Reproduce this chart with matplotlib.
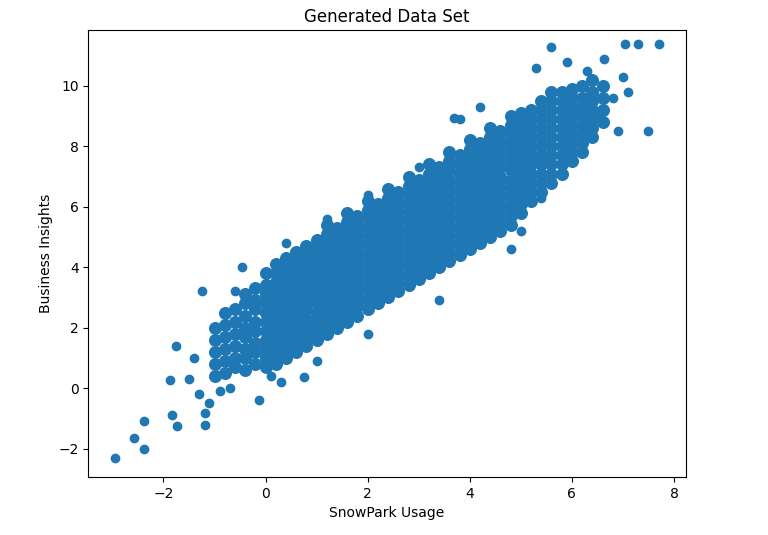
import matplotlib
matplotlib.use("Agg")
import matplotlib.pyplot as plt

# values, column by column (x: list of y values)
core = {
    -1.0: [0.4, 0.8, 1.2, 1.6, 2.0],
    -0.8: [0.5, 0.9, 1.3, 1.7, 2.1, 2.5],
    -0.6: [0.7, 1.0, 1.4, 1.8, 2.2, 2.6],
    -0.4: [0.6, 1.0, 1.3, 1.7, 2.0, 2.4, 2.8, 3.1],
    -0.2: [0.8, 1.2, 1.5, 1.9, 2.2, 2.6, 2.9, 3.3],
    0.0: [0.7, 1.0, 1.3, 1.6, 1.9, 2.2, 2.5, 2.8, 3.1, 3.4, 3.8],
    0.2: [0.8, 1.1, 1.4, 1.7, 2.0, 2.3, 2.6, 2.9, 3.2, 3.5, 3.8, 4.1],
    0.4: [1.0, 1.3, 1.6, 1.9, 2.2, 2.5, 2.8, 3.1, 3.4, 3.7, 4.0, 4.3],
    0.6: [1.2, 1.5, 1.8, 2.1, 2.4, 2.7, 3.0, 3.3, 3.6, 3.9, 4.2, 4.5],
    0.8: [1.4, 1.7, 2.0, 2.3, 2.6, 2.9, 3.2, 3.5, 3.8, 4.1, 4.4, 4.7],
    1.0: [1.6, 1.9, 2.2, 2.5, 2.8, 3.1, 3.4, 3.7, 4.0, 4.3, 4.6, 4.9],
    1.2: [1.8, 2.1, 2.4, 2.7, 3.0, 3.3, 3.6, 3.9, 4.2, 4.5, 4.8, 5.1, 5.4],
    1.4: [2.0, 2.3, 2.6, 2.9, 3.2, 3.5, 3.8, 4.1, 4.4, 4.7, 5.0, 5.3],
    1.6: [2.2, 2.5, 2.8, 3.1, 3.4, 3.7, 4.0, 4.3, 4.6, 4.9, 5.2, 5.5, 5.8],
    1.8: [2.4, 2.7, 3.0, 3.3, 3.6, 3.9, 4.2, 4.5, 4.8, 5.1, 5.4, 5.7],
    2.0: [2.6, 2.9, 3.2, 3.5, 3.8, 4.1, 4.4, 4.7, 5.0, 5.3, 5.6, 5.9, 6.2],
    2.2: [2.8, 3.1, 3.4, 3.7, 4.0, 4.3, 4.6, 4.9, 5.2, 5.5, 5.8, 6.1],
    2.4: [3.0, 3.3, 3.6, 3.9, 4.2, 4.5, 4.8, 5.1, 5.4, 5.7, 6.0, 6.3, 6.6],
    2.6: [3.2, 3.5, 3.8, 4.1, 4.4, 4.7, 5.0, 5.3, 5.6, 5.9, 6.2, 6.5],
    2.8: [3.4, 3.7, 4.0, 4.3, 4.6, 4.9, 5.2, 5.5, 5.8, 6.1, 6.4, 6.7, 7.0],
    3.0: [3.6, 3.9, 4.2, 4.5, 4.8, 5.1, 5.4, 5.7, 6.0, 6.3, 6.6, 6.9],
    3.2: [3.8, 4.1, 4.4, 4.7, 5.0, 5.3, 5.6, 5.9, 6.2, 6.5, 6.8, 7.1, 7.4],
    3.4: [4.0, 4.3, 4.6, 4.9, 5.2, 5.5, 5.8, 6.1, 6.4, 6.7, 7.0, 7.3],
    3.6: [4.2, 4.5, 4.8, 5.1, 5.4, 5.7, 6.0, 6.3, 6.6, 6.9, 7.2, 7.5, 7.8],
    3.8: [4.4, 4.7, 5.0, 5.3, 5.6, 5.9, 6.2, 6.5, 6.8, 7.1, 7.4, 7.7],
    4.0: [4.6, 4.9, 5.2, 5.5, 5.8, 6.1, 6.4, 6.7, 7.0, 7.3, 7.6, 7.9, 8.2],
    4.2: [4.8, 5.1, 5.4, 5.7, 6.0, 6.3, 6.6, 6.9, 7.2, 7.5, 7.8, 8.1],
    4.4: [5.0, 5.3, 5.6, 5.9, 6.2, 6.5, 6.8, 7.1, 7.4, 7.7, 8.0, 8.3, 8.6],
    4.6: [5.2, 5.5, 5.8, 6.1, 6.4, 6.7, 7.0, 7.3, 7.6, 7.9, 8.2, 8.5],
    4.8: [5.4, 5.7, 6.0, 6.3, 6.6, 6.9, 7.2, 7.5, 7.8, 8.1, 8.4, 8.7, 9.0],
    5.0: [5.8, 6.1, 6.4, 6.7, 7.0, 7.3, 7.6, 7.9, 8.2, 8.5, 8.8, 9.1],
    5.2: [6.2, 6.5, 6.8, 7.1, 7.4, 7.7, 8.0, 8.3, 8.6, 8.9, 9.2],
    5.4: [6.5, 6.8, 7.1, 7.4, 7.7, 8.0, 8.3, 8.6, 8.9, 9.2, 9.5],
    5.6: [6.8, 7.1, 7.4, 7.7, 8.0, 8.3, 8.6, 8.9, 9.2, 9.5, 9.8],
    5.8: [7.1, 7.4, 7.7, 8.0, 8.3, 8.6, 8.9, 9.2, 9.5, 9.8],
    6.0: [7.5, 7.8, 8.1, 8.4, 8.7, 9.0, 9.3, 9.6, 9.9],
    6.2: [7.8, 8.1, 8.4, 8.7, 9.0, 9.3, 9.6, 10.0],
    6.4: [8.3, 8.6, 8.9, 9.2, 9.5, 9.8, 10.2],
    6.6: [8.8, 9.2, 9.6, 10.0],
}

# scattered outliers around the band
outlier_x = [-2.94, -2.57, -2.39, -2.39, -1.88, -1.84, -1.73, -1.76, -1.25, -1.18,
             -1.18, -0.47, -0.12, 0.76, 5.6, 7.04, 7.29, 7.7, 7.49, 5.4, 3.69, 6.63,
             6.8, 7.0, 6.9, 5.3, 5.9, 6.3, 6.5, 7.1, -1.5, -1.4, -1.3, -1.1, -0.9,
             -0.7, 0.3, 0.1, 1.0, 2.0, 3.4, 4.8, 5.0, -0.6, 0.4, 1.2, 2.0, 3.0, 3.8, 4.2]
outlier_y = [-2.3, -1.66, -1.08, -2.03, 0.27, -0.88, -1.25, 1.39, 3.2, -0.81,
             -1.22, 4.0, -0.41, 0.37, 11.3, 11.4, 11.4, 11.4, 8.5, 6.3, 8.95, 10.9,
             9.6, 10.3, 8.5, 10.6, 10.8, 10.5, 9.0, 9.8, 0.3, 1.0, -0.2, -0.5, -0.1,
             0.0, 0.2, 0.4, 0.9, 1.8, 2.9, 4.6, 5.2, 3.2, 4.8, 5.6, 6.4, 7.3, 8.9, 9.3]

core_x = [x for x, col in core.items() for _ in col]
core_y = [y for col in core.values() for y in col]

fig, ax = plt.subplots(figsize=(7.68, 5.35), dpi=100)
fig.subplots_adjust(left=0.115, right=0.893, top=0.944, bottom=0.108)
ax.scatter(core_x, core_y, s=70, color="#1f77b4")
ax.scatter(outlier_x, outlier_y, color="#1f77b4")
ax.set_ylim(-2.95, 11.85)
ax.set_title("Generated Data Set")
ax.set_xlabel("SnowPark Usage")
ax.set_ylabel("Business Insights")
fig.savefig("out.png")
